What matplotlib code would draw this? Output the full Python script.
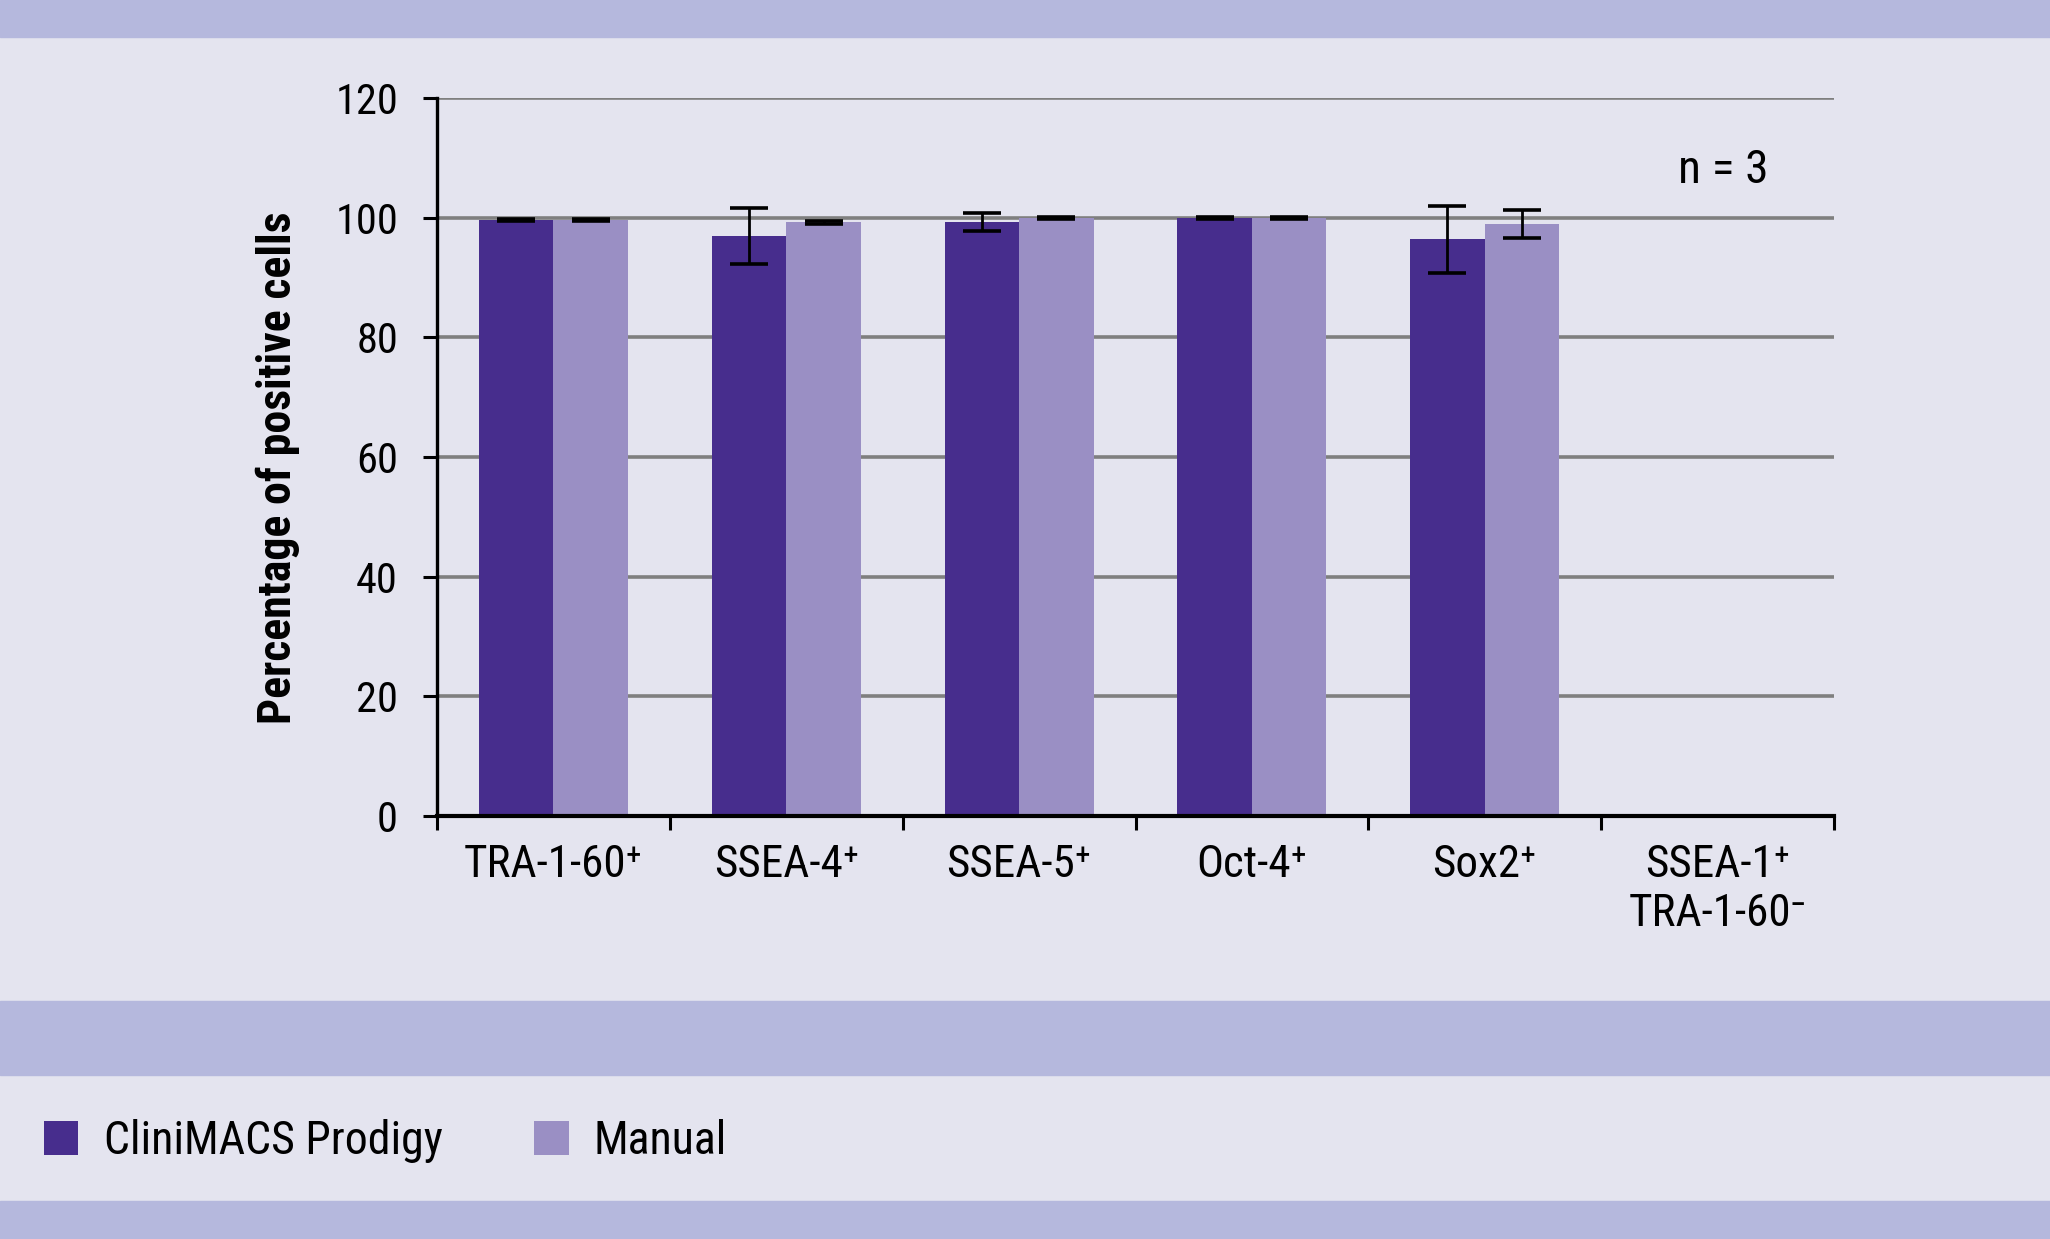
import matplotlib.pyplot as plt
import numpy as np
from matplotlib import font_manager
from matplotlib.patches import Rectangle

# Data
categories = ["TRA-1-60⁺", "SSEA-4⁺", "SSEA-5⁺", "Oct-4⁺", "Sox2⁺", "SSEA-1⁺\nTRA-1-60⁻"]
prodigy = [99.6, 96.9, 99.3, 99.9, 96.4, 0.0]
prodigy_err = [0.2, 4.7, 1.5, 0.2, 5.6, 0.0]
manual = [99.6, 99.2, 99.9, 99.9, 98.9, 0.0]
manual_err = [0.2, 0.2, 0.2, 0.2, 2.3, 0.0]
series_labels = ["CliniMACS Prodigy", "Manual"]
yticks = [0, 20, 40, 60, 80, 100, 120]


def pick_font():
    faces = font_manager.fontManager.ttflist
    names = {f.name for f in faces}
    for name in ["Liberation Sans Narrow", "Roboto Condensed", "Open Sans Condensed"]:
        if name in names:
            return name, "normal"
    if any(f.name == "DejaVu Sans" and f.stretch in ("condensed", 300) for f in faces):
        return "DejaVu Sans", "condensed"
    return "Roboto", "normal"


def main() -> None:
    family, stretch = pick_font()
    plt.rcParams["font.family"] = [family, "DejaVu Sans"]
    plt.rcParams["font.stretch"] = stretch

    bg = "#E4E4EF"
    band = "#B5B8DD"
    dark = "#472D8D"
    light = "#9A8FC4"

    fig = plt.figure(figsize=(20.5, 12.39), dpi=100, facecolor=bg)

    # Decorative bands
    H = 1239.0
    for y0, y1 in [(0, 37), (1001, 1075), (1201, 1239)]:
        fig.patches.append(Rectangle((0, 1 - y1 / H), 1, (y1 - y0) / H,
                                     transform=fig.transFigure, color=band, zorder=0))

    ax = fig.add_axes([437 / 2050, 423 / H, 1397 / 2050, 718 / H])
    ax.set_facecolor("none")

    x = np.arange(len(categories)) + 0.5
    w = 0.32
    err_kw = dict(ecolor="black", elinewidth=2.0, capsize=14, capthick=2.6)
    b1 = ax.bar(x - w / 2, prodigy, w, color=dark, yerr=prodigy_err,
                error_kw=err_kw, zorder=3, label=series_labels[0])
    b2 = ax.bar(x + w / 2, manual, w, color=light, yerr=manual_err,
                error_kw=err_kw, zorder=3, label=series_labels[1])

    ax.set_xlim(0, len(categories))
    ax.set_ylim(0, 120)
    ax.set_yticks(yticks)
    ax.set_xticks(np.arange(len(categories) + 1))
    ax.set_xticklabels([])
    ax.set_xticks(x, minor=True)
    ax.set_xticklabels(categories, minor=True, fontsize=32.5, linespacing=1.22)
    ax.tick_params(axis="x", which="minor", length=0, pad=20)
    ax.tick_params(axis="x", which="major", length=10, width=2.2, direction="out")
    ax.tick_params(axis="y", length=10, width=2.2, direction="out", labelsize=30.5, pad=18)

    ax.grid(axis="y", color="#7F7F7F", linewidth=2.6, zorder=1)
    ax.set_axisbelow(True)
    for s in ("top", "right"):
        ax.spines[s].set_visible(False)
    ax.spines["left"].set_linewidth(2.4)
    ax.spines["bottom"].set_linewidth(3)
    ax.spines["bottom"].set_zorder(4)

    ax.set_ylabel("Percentage of positive cells", fontsize=33, fontweight="bold")
    ax.yaxis.set_label_coords(-0.098, 0.4855)

    ax.text(5.33, 108.0, "n = 3", fontsize=34, va="center", ha="left")

    fig.legend(handles=[b1, b2], labels=series_labels, loc="center left",
               bbox_to_anchor=(44 / 2050, 1 - 1141 / H), ncol=2, frameon=False,
               fontsize=33, handlelength=0.75, handleheight=0.75,
               handletextpad=0.55, columnspacing=2.0, borderaxespad=0, borderpad=0)

    fig.savefig("out.png", dpi=100, facecolor=bg)
    plt.close(fig)


if __name__ == "__main__":
    main()
